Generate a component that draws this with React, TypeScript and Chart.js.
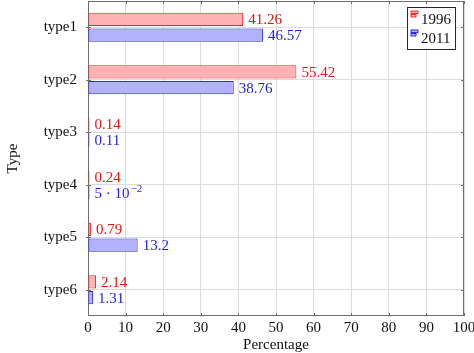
import React, { useEffect, useRef } from "react";
import { Chart, registerables } from "chart.js";

Chart.register(...registerables);

const categories = ["type1", "type2", "type3", "type4", "type5", "type6"];
const seriesNames = ["1996", "2011"];
const values1996 = [41.26, 55.42, 0.14, 0.24, 0.79, 2.14];
const values2011 = [46.57, 38.76, 0.11, 0.05, 13.2, 1.31];
const xMin = 0;
const xMax = 100;
const xStep = 10;

const FONT = "'Liberation Serif', 'Times New Roman', serif";
const FS = 15;
const RED = "rgb(230,20,20)";
const BLUE = "rgb(30,30,230)";

function fmt(v: number): { base: string; sup?: string } {
  if (v < 0.1) {
    const exp = Math.floor(Math.log10(v));
    const mant = Math.round(v / Math.pow(10, exp));
    return { base: `${mant} \u00b7 10`, sup: `\u2212${-exp}` };
  }
  return { base: String(v) };
}

const overlayPlugin = {
  id: "overlay",
  beforeDatasetsDraw(chart: any) {
    const ctx = chart.ctx as CanvasRenderingContext2D;
    const area = chart.chartArea;
    const xs = chart.scales.x;
    const ys = chart.scales.y;
    ctx.save();
    // axis box
    ctx.strokeStyle = "rgb(110,110,110)";
    ctx.lineWidth = 1;
    ctx.strokeRect(area.left + 0.5, area.top + 0.5, area.right - area.left - 1, area.bottom - area.top - 1);
    // tick marks inside
    ctx.beginPath();
    for (let v = xMin; v <= xMax; v += xStep) {
      const px = Math.round(xs.getPixelForValue(v)) + 0.5;
      ctx.moveTo(px, area.bottom);
      ctx.lineTo(px, area.bottom - 3);
      ctx.moveTo(px, area.top);
      ctx.lineTo(px, area.top + 3);
    }
    categories.forEach((_, i) => {
      const py = Math.round(ys.getPixelForValue(i)) + 0.5;
      ctx.moveTo(area.left - 2, py);
      ctx.lineTo(area.left + 3, py);
      ctx.moveTo(area.right, py);
      ctx.lineTo(area.right - 3, py);
    });
    ctx.stroke();
    ctx.restore();
  },
  afterDatasetsDraw(chart: any) {
    const ctx = chart.ctx as CanvasRenderingContext2D;
    const area = chart.chartArea;
    ctx.save();
    // data labels
    ctx.textBaseline = "middle";
    ctx.textAlign = "left";
    chart.data.datasets.forEach((ds: any, di: number) => {
      const meta = chart.getDatasetMeta(di);
      ctx.fillStyle = di === 0 ? RED : BLUE;
      meta.data.forEach((bar: any, i: number) => {
        const v = ds.data[i];
        const f = fmt(v);
        const x = Math.max(bar.x, area.left) + 5;
        const y = bar.y + 1;
        ctx.font = `${FS}px ${FONT}`;
        ctx.fillText(f.base, x, y);
        if (f.sup) {
          const w = ctx.measureText(f.base).width;
          ctx.font = `11px ${FONT}`;
          ctx.fillText(f.sup, x + w + 1, y - 5);
        }
      });
    });

    // legend
    const lx = 407.5, ly = 7.5, lw = 48, lh = 42;
    ctx.fillStyle = "#fff";
    ctx.fillRect(lx, ly, lw, lh);
    ctx.strokeStyle = "rgb(40,40,40)";
    ctx.lineWidth = 1;
    ctx.strokeRect(lx, ly, lw, lh);
    const entries = [
      { name: seriesNames[0], fill: "rgb(255,178,178)", stroke: "rgb(255,0,0)", y: 19 },
      { name: seriesNames[1], fill: "rgb(178,178,255)", stroke: "rgb(0,0,255)", y: 38 },
    ];
    entries.forEach((e) => {
      ctx.fillStyle = e.fill;
      ctx.strokeStyle = e.stroke;
      ctx.lineWidth = 0.8;
      ctx.fillRect(411, e.y - 8, 7, 2.5);
      ctx.strokeRect(411, e.y - 8, 7, 2.5);
      ctx.fillRect(411, e.y - 4.5, 5, 2.5);
      ctx.strokeRect(411, e.y - 4.5, 5, 2.5);
      ctx.fillStyle = "#111";
      ctx.font = `${FS}px ${FONT}`;
      ctx.textAlign = "left";
      ctx.textBaseline = "middle";
      ctx.fillText(e.name, 421, e.y + 1);
    });

    // axis titles
    ctx.fillStyle = "#111";
    ctx.font = `${FS}px ${FONT}`;
    ctx.textAlign = "center";
    ctx.textBaseline = "middle";
    ctx.fillText("Percentage", (area.left + area.right) / 2, 345);
    ctx.save();
    ctx.translate(13, (area.top + area.bottom) / 2);
    ctx.rotate(-Math.PI / 2);
    ctx.fillText("Type", 0, 0);
    ctx.restore();
    ctx.restore();
  },
};

export default function App() {
  const ref = useRef<HTMLCanvasElement | null>(null);
  useEffect(() => {
    document.body.style.margin = "0";
    const canvas = ref.current!;
    const chart = new Chart(canvas, {
      type: "bar",
      data: {
        labels: categories,
        datasets: [
          {
            label: seriesNames[0],
            data: values1996,
            backgroundColor: "rgb(255,178,178)",
            borderColor: "rgb(240,40,40)",
            borderWidth: 1,
            borderSkipped: false,
            minBarLength: 1.5,
            categoryPercentage: 0.6,
            barPercentage: 0.83,
          },
          {
            label: seriesNames[1],
            data: values2011,
            backgroundColor: "rgb(178,178,255)",
            borderColor: "rgb(40,40,240)",
            borderWidth: 1,
            borderSkipped: false,
            minBarLength: 1.5,
            categoryPercentage: 0.6,
            barPercentage: 0.83,
          },
        ],
      },
      options: {
        indexAxis: "y",
        responsive: false,
        animation: false,
        layout: { padding: { left: 0, right: 10, top: 1, bottom: 0 } },
        plugins: {
          legend: { display: false },
          tooltip: { enabled: false },
        },
        scales: {
          x: {
            type: "linear",
            min: xMin,
            max: xMax,
            ticks: {
              stepSize: xStep,
              padding: 3,
              color: "#111",
              font: { family: FONT, size: FS },
            },
            grid: { color: "rgb(220,220,220)", drawTicks: false },
            border: { display: false },
            afterFit: (s: any) => {
              s.height = 37;
              s.paddingLeft = 0;
              s.paddingRight = 0;
              s.paddingTop = 0;
              s.paddingBottom = 0;
            },
          },
          y: {
            type: "category",
            ticks: {
              padding: 11,
              color: "#111",
              font: { family: FONT, size: FS },
            },
            grid: { color: "rgb(220,220,220)", drawTicks: false, offset: false },
            border: { display: false },
            afterFit: (s: any) => {
              s.width = 88;
              s.paddingLeft = 0;
              s.paddingRight = 0;
              s.paddingTop = 0;
              s.paddingBottom = 0;
            },
          },
        },
      },
      plugins: [overlayPlugin],
    } as any);
    return () => chart.destroy();
  }, []);
  return (
    <canvas
      ref={ref}
      width={474}
      height={353}
      style={{ display: "block", width: 474, height: 353 }}
    />
  );
}
